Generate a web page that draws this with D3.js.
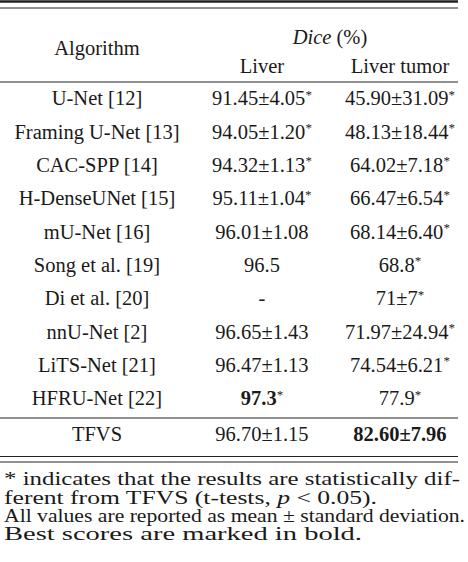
<!DOCTYPE html>
<html><head><meta charset="utf-8">
<script src="https://cdn.jsdelivr.net/npm/d3@7"></script>
<style>body{margin:0;background:#fff}svg text{font-family:"Liberation Serif","DejaVu Serif",serif;fill:#1a1a1a}</style>
</head><body><div id="chart"></div>
<script>
// [text, significant?, bold?]
const algorithms = ["U-Net [12]", "Framing U-Net [13]", "CAC-SPP [14]", "H-DenseUNet [15]", "mU-Net [16]",
  "Song et al. [19]", "Di et al. [20]", "nnU-Net [2]", "LiTS-Net [21]", "HFRU-Net [22]", "TFVS"];
const liver = [["91.45±4.05",1,0],["94.05±1.20",1,0],["94.32±1.13",1,0],["95.11±1.04",1,0],["96.01±1.08",0,0],
  ["96.5",0,0],["-",0,0],["96.65±1.43",0,0],["96.47±1.13",0,0],["97.3",1,1],["96.70±1.15",0,0]];
const tumor = [["45.90±31.09",1,0],["48.13±18.44",1,0],["64.02±7.18",1,0],["66.47±6.54",1,0],["68.14±6.40",1,0],
  ["68.8",1,0],["71±7",1,0],["71.97±24.94",1,0],["74.54±6.21",1,0],["77.9",1,0],["82.60±7.96",0,1]];
const notes = ["* indicates that the results are statistically dif-", "ferent from TFVS (t-tests, p < 0.05).",
  "All values are reported as mean ± standard deviation.", "Best scores are marked in bold."];
const noteWidths = [456, 373, 461, 358];

const W = 468, H = 562, fs = 20.5;
const svg = d3.select("#chart").append("svg").attr("width", W).attr("height", H);
const y = d3.scaleLinear().domain([0, 9]).range([98, 398]);
const x = {alg: 97, liver: 262, tumor: 400};

const rule = (yy, w) => svg.append("line").attr("x1", 0).attr("x2", 458).attr("y1", yy).attr("y2", yy)
  .attr("stroke", "#222").attr("stroke-width", w);
rule(1.5, 2.5); rule(8, 1); rule(82, 1); rule(418, 1); rule(456.5, 1); rule(462, 1);

const t = (xx, yy, s) => svg.append("text").attr("x", xx).attr("y", yy).attr("dy", "0.35em")
  .attr("text-anchor", "middle").attr("font-size", fs).text(s);
const dice = t(330, 37, "");
dice.append("tspan").attr("font-style", "italic").text("Dice");
dice.append("tspan").text(" (%)");
t(x.alg, 48, "Algorithm");
t(x.liver, 66, "Liver");
t(x.tumor, 66, "Liver tumor");

const rowY = i => i < 10 ? y(i) : 434;
algorithms.forEach((a, i) => t(x.alg, rowY(i), a));
function cell(xx, i, [s, sig, bold]) {
  const el = t(xx, rowY(i), "");
  el.append("tspan").attr("font-weight", bold ? "bold" : null).text(s);
  if (sig) el.append("tspan").attr("font-size", 13).attr("dy", "-0.5em").text("*");
}
liver.forEach((d, i) => cell(x.liver, i, d));
tumor.forEach((d, i) => cell(x.tumor, i, d));

const ny = [478, 497, 515, 533];
notes.forEach((n, i) => {
  const el = svg.append("text").attr("x", 4).attr("y", ny[i]).attr("dy", "0.35em").attr("font-size", 19)
    .attr("textLength", noteWidths[i]).attr("lengthAdjust", "spacingAndGlyphs");
  if (i === 1) {
    el.append("tspan").text("ferent from TFVS (t-tests, ");
    el.append("tspan").attr("font-style", "italic").text("p");
    el.append("tspan").text(" < 0.05).");
  } else el.text(n);
});
</script></body></html>
